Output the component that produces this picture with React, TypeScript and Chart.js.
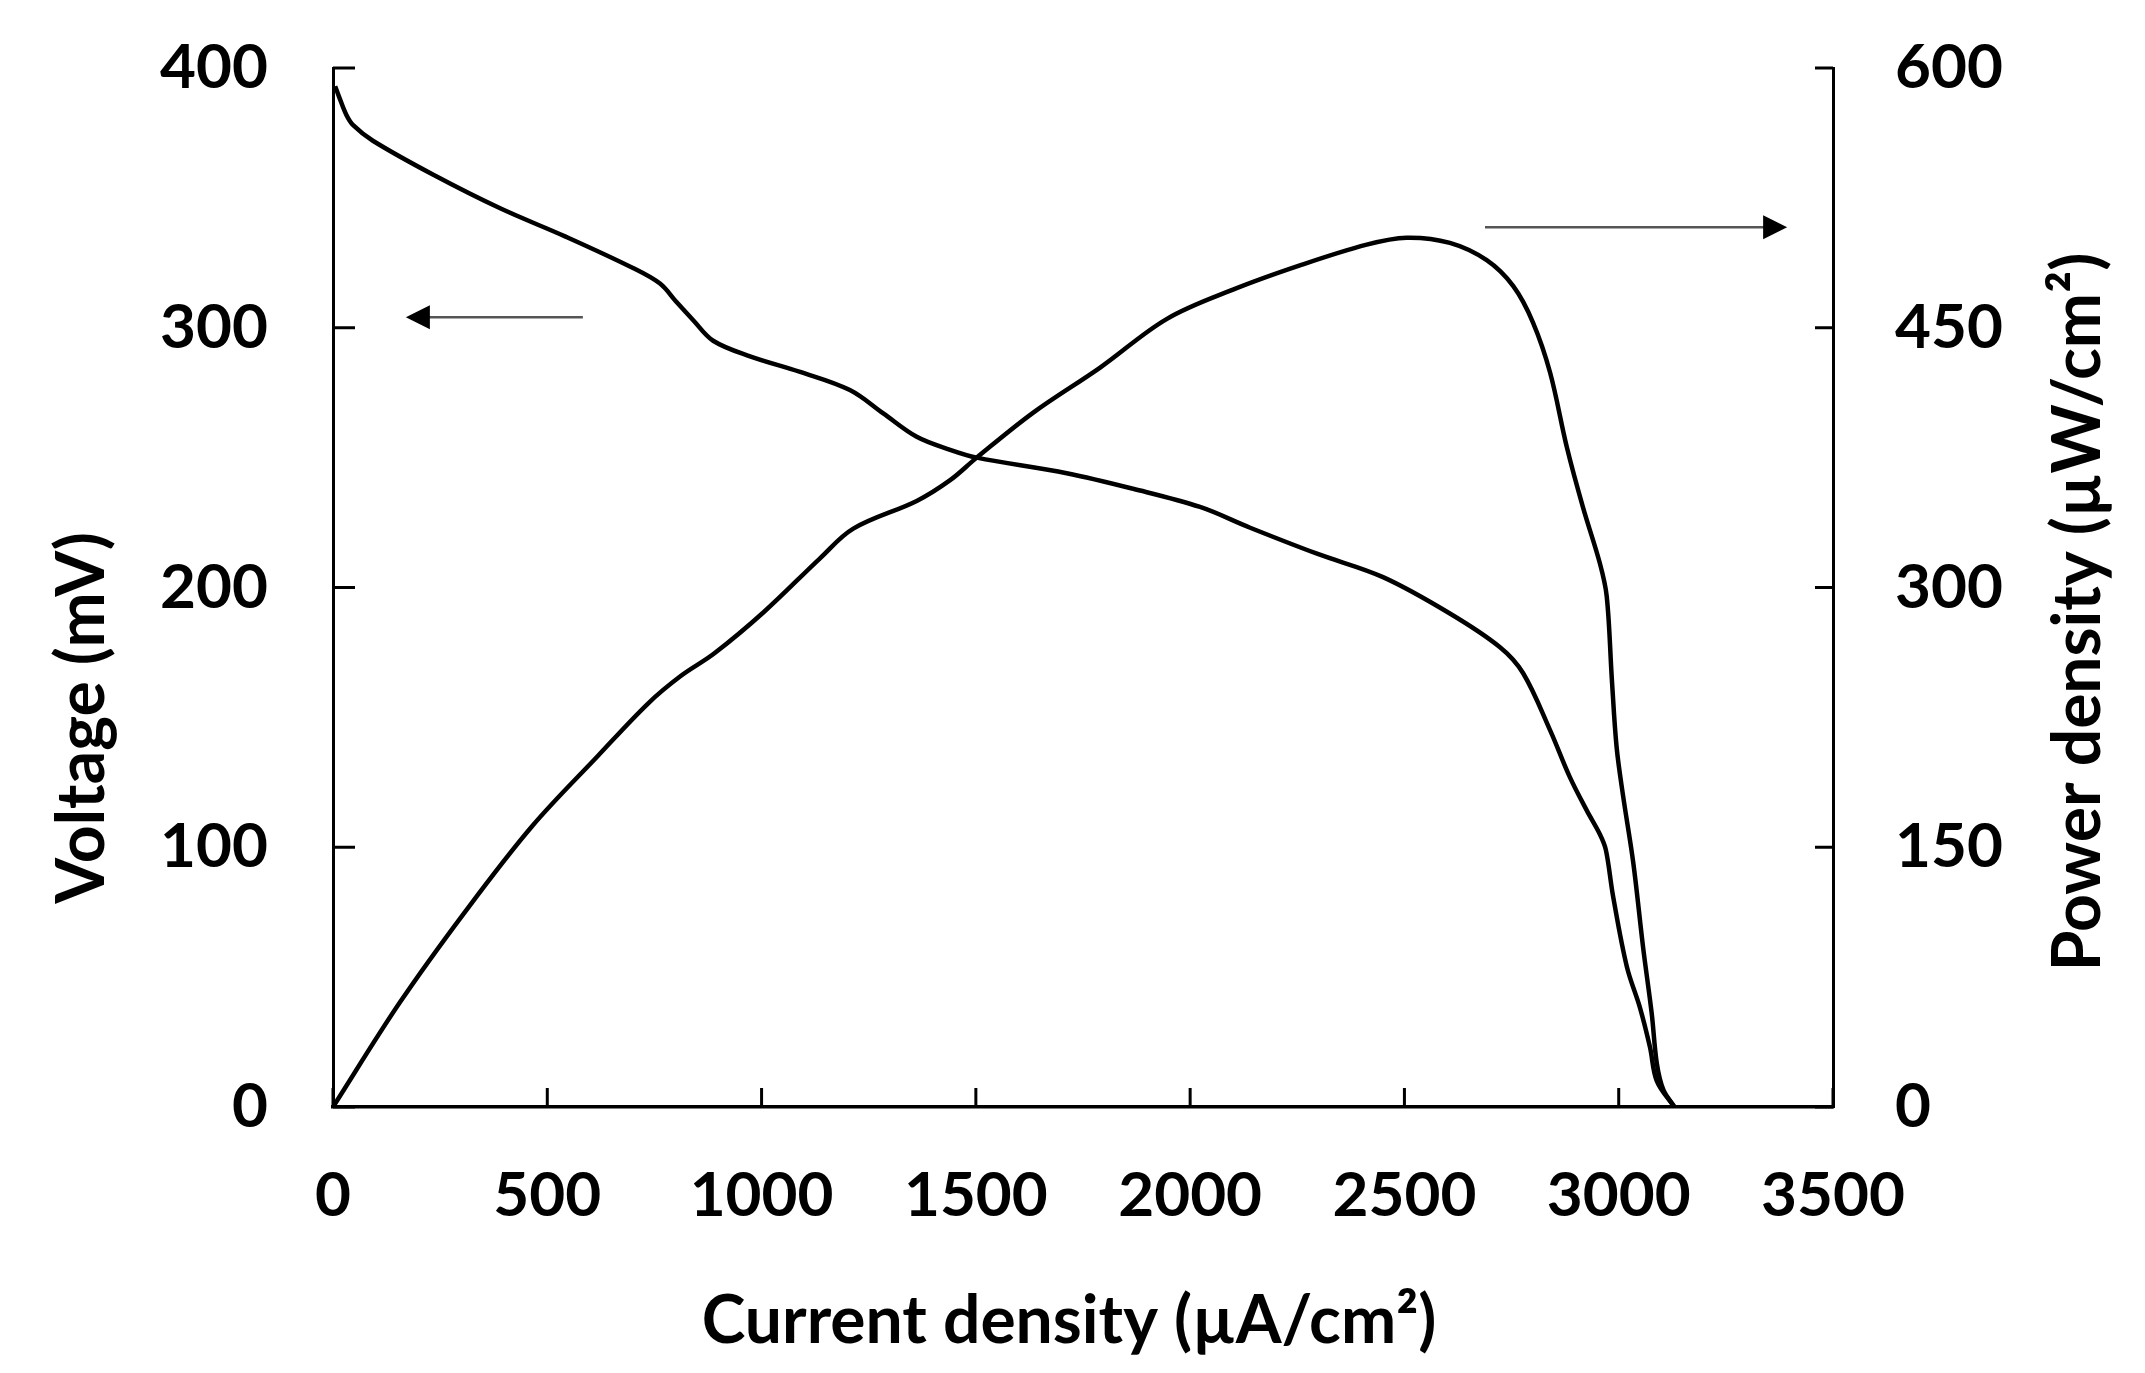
import { useEffect, useRef } from 'react'
import Chart from 'chart.js/auto'

// polarization curve: current density (µA/cm²) vs voltage (mV)
const voltageCurrent = [
  5, 14, 31, 47, 93, 233, 390, 544, 700, 763, 801, 840, 887, 973, 1090, 1206, 1284, 1362, 1440, 1502,
  1712, 1867, 2023, 2140, 2296, 2450, 2606, 2723, 2777, 2840, 2886, 2926, 2956, 2970, 2987, 3019, 3050,
  3073, 3089, 3130,
]
const voltage = [
  393, 389, 382, 378, 372, 359, 346, 335, 323, 317, 310, 303, 295, 289, 283, 276, 267, 258, 253, 250,
  244, 238, 231, 223, 213, 204, 190, 177, 167, 145, 127, 114, 105, 99, 81, 54, 38, 23, 10, 0,
]

// power curve: current density (µA/cm²) vs power density (µW/cm²)
const powerCurrent = [
  0, 155, 309, 464, 619, 735, 812, 890, 1006, 1137, 1214, 1362, 1440, 1502, 1634, 1790, 1945, 2100, 2256,
  2412, 2505, 2606, 2692, 2754, 2800, 2840, 2879, 2917, 2956, 2972, 2984, 2995, 3010, 3034, 3057, 3077,
  3089, 3104, 3130,
]
const power = [
  0, 60, 113, 162, 203, 233, 249, 262, 286, 317, 334, 350, 362, 375, 401, 427, 455, 472, 486,
  498, 502, 499, 489, 474, 453, 424, 381, 346, 314, 295, 247, 208, 180, 141, 92, 54,
  25, 10, 0,
]

const currentTicks = [0, 500, 1000, 1500, 2000, 2500, 3000, 3500]
const voltageTicks = [0, 100, 200, 300, 400]
const powerTicks = [0, 150, 300, 450, 600]

const xTitle = 'Current density (µA/cm²)'
const yTitle = 'Voltage (mV)'
const y2Title = 'Power density (µW/cm²)'

// arrows pointing at the axis each curve belongs to (data coords)
const voltageArrow = { from: 583, to: 170, at: 304 }
const powerArrow = { from: 2688, to: 3393, at: 508 }

const FONT = 'Lato'

const decorations = {
  id: 'decorations',
  afterDraw(chart: any) {
    const { ctx, chartArea } = chart
    const { x, y, y2 } = chart.scales
    const seg = (x1: number, y1: number, x2: number, y2p: number) => {
      ctx.beginPath()
      ctx.moveTo(x1, y1)
      ctx.lineTo(x2, y2p)
      ctx.stroke()
    }
    ctx.save()

    // inward tick marks
    ctx.strokeStyle = '#000'
    ctx.lineWidth = 3
    currentTicks.forEach((v) => {
      const px = x.getPixelForValue(v)
      seg(px, chartArea.bottom, px, chartArea.bottom - 19)
    })
    voltageTicks.forEach((v) => {
      const py = y.getPixelForValue(v)
      seg(chartArea.left, py, chartArea.left + 22, py)
    })
    powerTicks.forEach((v) => {
      const py = y2.getPixelForValue(v)
      seg(chartArea.right, py, chartArea.right - 18, py)
    })

    // arrows
    const arrow = (fx: number, tx: number, py: number) => {
      const dir = tx > fx ? 1 : -1
      ctx.strokeStyle = '#555'
      ctx.lineWidth = 2.5
      seg(fx, py, tx - dir * 20, py)
      ctx.fillStyle = '#000'
      ctx.beginPath()
      ctx.moveTo(tx, py)
      ctx.lineTo(tx - dir * 24, py - 12)
      ctx.lineTo(tx - dir * 24, py + 12)
      ctx.closePath()
      ctx.fill()
    }
    arrow(x.getPixelForValue(voltageArrow.from), x.getPixelForValue(voltageArrow.to), y.getPixelForValue(voltageArrow.at))
    arrow(x.getPixelForValue(powerArrow.from), x.getPixelForValue(powerArrow.to), y2.getPixelForValue(powerArrow.at))

    // axis titles
    ctx.fillStyle = '#000'
    ctx.font = `bold 66px ${FONT}`
    ctx.textAlign = 'center'
    ctx.textBaseline = 'middle'
    ctx.fillText(xTitle, 1069, 1322)
    const vertical = (text: string, cx: number, cy: number) => {
      ctx.save()
      ctx.translate(cx, cy)
      ctx.rotate(-Math.PI / 2)
      ctx.fillText(text, 0, 0)
      ctx.restore()
    }
    vertical(yTitle, 83, 718)
    vertical(y2Title, 2079, 612)

    ctx.restore()
  },
}

const tickFont = { family: FONT, weight: 'bold' as const, size: 62 }
const plain = (v: number | string) => String(v)
// invisible tick space keeps the labels off the axis without inflating the top padding
const hiddenTicks = (len: number) => ({
  display: true,
  drawOnChartArea: false,
  drawTicks: true,
  tickLength: len,
  tickColor: 'transparent',
})

export default function App() {
  const canvasRef = useRef<HTMLCanvasElement>(null)
  const chartRef = useRef<Chart | null>(null)

  useEffect(() => {
    if (!canvasRef.current) return
    if (chartRef.current) chartRef.current.destroy()

    chartRef.current = new Chart(canvasRef.current, {
      type: 'line',
      data: {
        datasets: [
          {
            label: 'Voltage',
            data: voltageCurrent.map((c, i) => ({ x: c, y: voltage[i] })),
            borderColor: '#000',
            borderWidth: 4.5,
            pointRadius: 0,
            tension: 0.35,
            yAxisID: 'y',
            fill: false,
          },
          {
            label: 'Power density',
            data: powerCurrent.map((c, i) => ({ x: c, y: power[i] })),
            borderColor: '#000',
            borderWidth: 4.5,
            pointRadius: 0,
            tension: 0.35,
            yAxisID: 'y2',
            fill: false,
          },
        ],
      },
      options: {
        animation: false,
        responsive: true,
        maintainAspectRatio: false,
        layout: { padding: { top: 68, left: 0, right: 0, bottom: 0 } },
        plugins: { legend: { display: false }, tooltip: { enabled: false } },
        scales: {
          x: {
            type: 'linear',
            min: 0,
            max: 3500,
            afterBuildTicks: (s: any) => { s.ticks = currentTicks.map((value) => ({ value })) },
            afterFit: (s: any) => { s.height = 266 },
            grid: hiddenTicks(47),
            border: { display: true, color: '#000', width: 3.5 },
            ticks: { color: '#000', font: tickFont, padding: 5, maxRotation: 0, autoSkip: false, callback: plain },
          },
          y: {
            position: 'left',
            min: 0,
            max: 400,
            afterBuildTicks: (s: any) => { s.ticks = voltageTicks.map((value) => ({ value })) },
            afterFit: (s: any) => { s.width = 333 },
            grid: hiddenTicks(60),
            border: { display: true, color: '#000', width: 3 },
            ticks: { color: '#000', font: tickFont, padding: 5, callback: plain },
          },
          y2: {
            position: 'right',
            min: 0,
            max: 600,
            afterBuildTicks: (s: any) => { s.ticks = powerTicks.map((value) => ({ value })) },
            afterFit: (s: any) => { s.width = 312 },
            grid: hiddenTicks(57),
            border: { display: true, color: '#000', width: 3 },
            ticks: { color: '#000', font: tickFont, padding: 5, callback: plain },
          },
        },
      },
      plugins: [decorations],
    })

    return () => { chartRef.current?.destroy() }
  }, [])

  return (
    <div style={{ position: 'absolute', top: 0, left: 0, width: 2145, height: 1373, background: '#fff' }}>
      <canvas ref={canvasRef} />
    </div>
  )
}
